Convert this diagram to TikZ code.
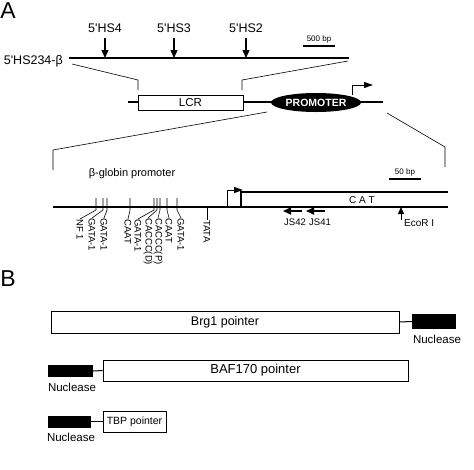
\documentclass[tikz,border=0pt]{standalone}
\usepackage{fontspec}
\setmainfont{Liberation Sans}
\usetikzlibrary{arrows.meta,shapes.geometric}
\newcommand{\fs}[1]{\fontsize{#1}{#1}\selectfont}
\begin{document}
\begin{tikzpicture}[x=1pt,y=-1pt,
  dna/.style={line width=1.6pt},
  dnathin/.style={line width=1.2pt},
  zoomline/.style={line width=0.6pt},
  lbl/.style={inner sep=0pt},
  hsarrow/.style={line width=1.3pt,-{Triangle[width=7pt,length=8pt]}},
  primer/.style={line width=1.8pt,-{Triangle[width=7pt,length=8pt]}},
  tssarrow/.style={line width=1pt,-{Triangle[width=6pt,length=9pt]}},
  scalebar/.style={line width=2.6pt},
  pbox/.style={draw,line width=0.8pt,fill=white,inner sep=0pt},
  nucbox/.style={fill=black,inner sep=0pt},
  elab/.style={rotate=-90,anchor=west,inner sep=0pt,font=\fs{9.5}},
  tick/.style={line width=0.6pt}]
\useasboundingbox (0,0) rectangle (474,469);

% ---------------- Panel A ----------------
\node[lbl,font=\fs{23}] (labA) at (8,11) {A};

% top construct
\coordinate (L1) at (69,58);
\coordinate (L2) at (349,58);
\draw[dna] (L1) -- (L2);
\node[lbl,anchor=east,font=\fs{12.5}] (hs234) at (63,61) {5\textquotesingle HS234-β};

\node[lbl,font=\fs{12.5}] (hs4) at (105,28) {5\textquotesingle HS4};
\node[lbl,font=\fs{12.5}] (hs3) at (174,28) {5\textquotesingle HS3};
\node[lbl,font=\fs{12.5}] (hs2) at (246,28) {5\textquotesingle HS2};
\draw[hsarrow] ([yshift=-5pt]hs4.south) -- (hs4.south |- L1);
\draw[hsarrow] ([yshift=-5pt]hs3.south) -- (hs3.south |- L1);
\draw[hsarrow] ([yshift=-5pt]hs2.south) -- (hs2.south |- L1);

\node[lbl,font=\fs{8}] (sb500) at (319,39) {500 bp};
\coordinate (sbA) at (303,46);
\coordinate (sbB) at (335,46);
\draw[scalebar] (sbA) -- (sbB);

% zoom lines to LCR
\coordinate (za1) at (72,64);
\coordinate (za2) at (138,80);
\coordinate (za3) at (138,90);
\coordinate (zb1) at (348,61);
\coordinate (zb2) at (242,80);
\coordinate (zb3) at (242,90);
\draw[zoomline] (za1) -- (za2) -- (za3);
\draw[zoomline] (zb1) -- (zb2) -- (zb3);

% middle construct
\coordinate (M1) at (128,102);
\coordinate (M2) at (383,102);
\draw[dnathin] (M1) -- (M2);
\node[pbox,minimum width=105pt,minimum height=15pt,font=\fs{11.5}] (lcr) at (190.5,102.5) {LCR};
\node[ellipse,fill=black,text=white,inner sep=0pt,minimum width=90pt,minimum height=19pt,font=\bfseries\fs{10.5}] (prom) at (316,102.5) {PROMOTER};
\coordinate (tp1) at (352,95);
\coordinate (tp2) at (352,85);
\coordinate (tp3) at (373,85);
\draw[tssarrow] (tp1) -- (tp2) -- (tp3);

% zoom lines to promoter detail
\coordinate (zc1) at (267,112);
\coordinate (zc2) at (53,150);
\coordinate (zc3) at (53,170);
\coordinate (zd1) at (387,113);
\coordinate (zd2) at (445,147);
\coordinate (zd3) at (445,167);
\draw[zoomline] (zc1) -- (zc2) -- (zc3);
\draw[zoomline] (zd1) -- (zd2) -- (zd3);

\node[lbl,font=\fs{11}] (bglob) at (132,174) {β-globin promoter};

% promoter line
\coordinate (P1) at (53,207);
\coordinate (P0) at (97,207);
\coordinate (P2) at (448,207);
\draw[dna] (P1) -- (P2);
\draw[line width=2.4pt] (P1) -- (P0);

% CAT open box
\coordinate (C1) at (241,207);
\coordinate (C2) at (241,192);
\coordinate (C3) at (448,192);
\draw[dnathin] (C1) -- (C2) -- (C3);
\node[lbl,font=\fs{10}] (cat) at (362,200) {C A T};

\coordinate (t1) at (227,207);
\coordinate (t2) at (227,190);
\coordinate (t3) at (243,190);
\draw[tssarrow] (t1) -- (t2) -- (t3);

% primers
\coordinate (j2a) at (302,211);
\coordinate (j2b) at (283,211);
\coordinate (j1a) at (325,211);
\coordinate (j1b) at (306,211);
\draw[primer] (j2a) -- (j2b);
\draw[primer] (j1a) -- (j1b);
\node[lbl,font=\fs{9.5}] (js42) at (295,222) {JS42};
\node[lbl,font=\fs{9.5}] (js41) at (320,222) {JS41};

% EcoR I
\coordinate (e1) at (401,220);
\coordinate (e2) at (401,207);
\draw[line width=1pt,-{Triangle[width=6pt,length=7pt]}] (e1) -- (e2);
\node[lbl,anchor=west,font=\fs{10}] (ecor) at (404,223) {EcoR I};

% 50 bp
\node[lbl,font=\fs{8}] (sb50) at (405,172) {50 bp};
\coordinate (sc1) at (389,179);
\coordinate (sc2) at (421,179);
\draw[scalebar] (sc1) -- (sc2);

% promoter elements
\node[elab] (nf1) at (80,219) {NF 1};
\node[elab] (ga1) at (92,218) {GATA-1};
\node[elab] (ga2) at (104,218) {GATA-1};
\node[elab] (caat1) at (128,219) {CAAT};
\node[elab] (ga3) at (138,219) {GATA-1};
\node[elab] (cd) at (148,218) {CACCC(D)};
\node[elab] (cp) at (158,218) {CACCC(P)};
\node[elab] (caat2) at (169,218) {CAAT};
\node[elab] (ga4) at (181,218) {GATA-1};
\node[elab] (tata) at (207,220) {TATA};

\foreach \tx/\lab in {96/nf1,103/ga1,107/ga2,130/caat1,154/ga3,157/cd,160/cp,167/caat2,177/ga4}{
  \coordinate (tk\lab) at (\tx,198);
  \draw[tick] (tk\lab) -- ++(0,12) -- (\lab.west);
}
\coordinate (tktata) at (207,208);
\draw[tick] (tktata) -- (tata.west);

% ---------------- Panel B ----------------
\node[lbl,font=\fs{23}] (labB) at (8,279) {B};

\node[pbox,minimum width=348pt,minimum height=22pt,font=\fs{12.5}] (brg) at (225,322) {Brg1 pointer};
\node[nucbox,minimum width=44pt,minimum height=15pt] (nuc1) at (434,321.5) {};
\draw[line width=1pt] (brg.east) -- (nuc1.west);
\node[lbl,font=\fs{11.5}] (nl1) at (437,339) {Nuclease};

\node[nucbox,minimum width=45pt,minimum height=12pt] (nuc2) at (70.5,371) {};
\node[pbox,minimum width=305pt,minimum height=21pt,font=\fs{13}] (baf) at (255.5,370.5) {BAF170 pointer};
\draw[line width=1pt] (nuc2.east) -- (baf.west);
\node[lbl,font=\fs{11.5}] (nl2) at (72,387) {Nuclease};

\node[nucbox,minimum width=43pt,minimum height=12pt] (nuc3) at (69.5,421.5) {};
\node[pbox,minimum width=63pt,minimum height=21pt,font=\fs{10.5}] (tbp) at (134.5,421.5) {TBP pointer};
\draw[line width=1pt] (nuc3.east) -- (tbp.west);
\node[lbl,font=\fs{11.5}] (nl3) at (71,437) {Nuclease};
\end{tikzpicture}
\end{document}
